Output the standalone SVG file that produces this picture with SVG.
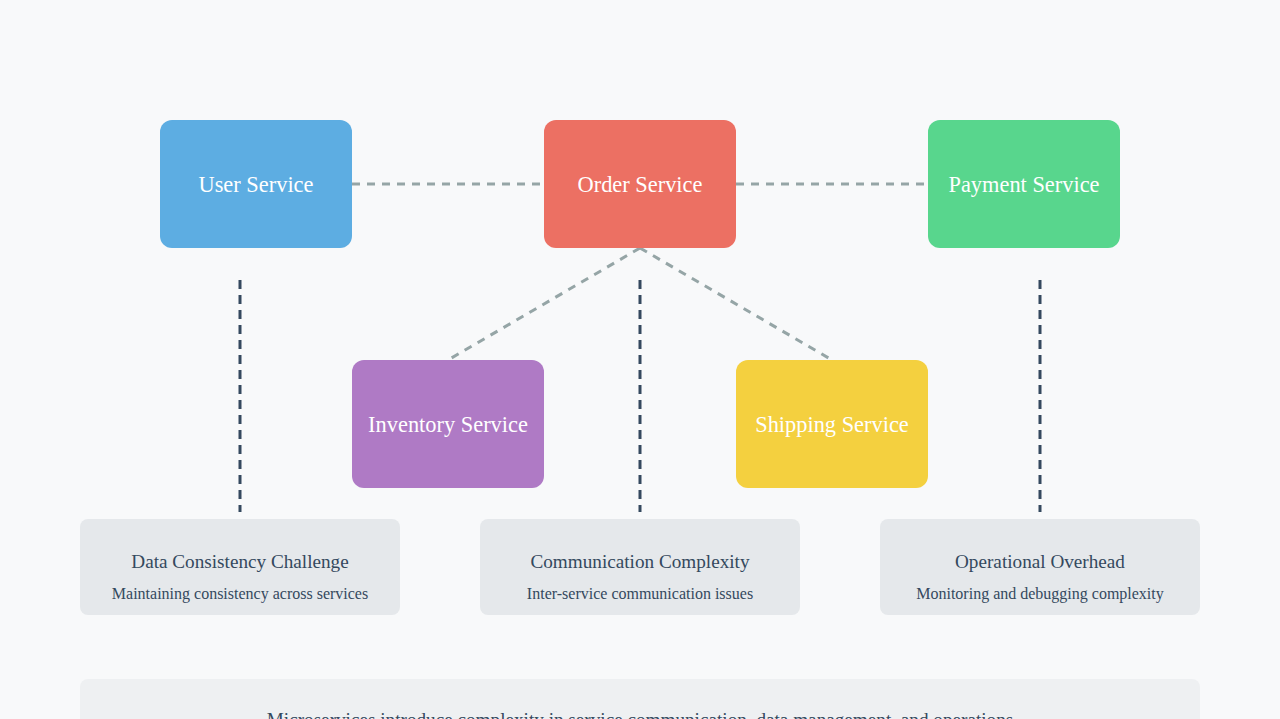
<svg xmlns="http://www.w3.org/2000/svg" width="1280" height="719" viewBox="0 0 1280 719">
<style>
.node-text{font-family:"Liberation Serif","Times New Roman",serif;font-size:22.4px;fill:#ffffff;text-anchor:middle;dominant-baseline:central}
.title{font-family:"Liberation Serif","Times New Roman",serif;font-size:19.2px;fill:#34495e;text-anchor:middle}
.sub{font-family:"Liberation Serif","Times New Roman",serif;font-size:16px;fill:#34495e;text-anchor:middle}
.conn{stroke:#95a5a6;stroke-width:3;stroke-dasharray:8,7;fill:none}
.vconn{stroke:#34495e;stroke-width:3;stroke-dasharray:9,6;fill:none}
.box{fill:#e5e8eb}
</style>
<rect x="0" y="0" width="1280" height="719" fill="#f8f9fa"/>
<g id="connectors">
<line class="conn" x1="352" y1="184" x2="544" y2="184"/>
<line class="conn" x1="736" y1="184" x2="928" y2="184"/>
<line class="conn" x1="640" y1="248" x2="448" y2="360"/>
<line class="conn" x1="640" y1="248" x2="832" y2="360"/>
<line class="vconn" x1="240" y1="280" x2="240" y2="512"/>
<line class="vconn" x1="640" y1="280" x2="640" y2="512"/>
<line class="vconn" x1="1040" y1="280" x2="1040" y2="512"/>
</g>
<g id="user-service">
<rect x="160" y="120" width="192" height="128" rx="12" fill="#5dade2"/>
<text class="node-text" x="256" y="184">User Service</text>
</g>
<g id="order-service">
<rect x="544" y="120" width="192" height="128" rx="12" fill="#ec7063"/>
<text class="node-text" x="640" y="184">Order Service</text>
</g>
<g id="payment-service">
<rect x="928" y="120" width="192" height="128" rx="12" fill="#58d68d"/>
<text class="node-text" x="1024" y="184">Payment Service</text>
</g>
<g id="inventory-service">
<rect x="352" y="360" width="192" height="128" rx="12" fill="#af7ac5"/>
<text class="node-text" x="448" y="424">Inventory Service</text>
</g>
<g id="shipping-service">
<rect x="736" y="360" width="192" height="128" rx="12" fill="#f4d03f"/>
<text class="node-text" x="832" y="424">Shipping Service</text>
</g>
<g id="challenge-data">
<rect class="box" x="80" y="519" width="320" height="96" rx="8"/>
<text class="title" x="240" y="568">Data Consistency Challenge</text>
<text class="sub" x="240" y="599">Maintaining consistency across services</text>
</g>
<g id="challenge-comm">
<rect class="box" x="480" y="519" width="320" height="96" rx="8"/>
<text class="title" x="640" y="568">Communication Complexity</text>
<text class="sub" x="640" y="599">Inter-service communication issues</text>
</g>
<g id="challenge-ops">
<rect class="box" x="880" y="519" width="320" height="96" rx="8"/>
<text class="title" x="1040" y="568">Operational Overhead</text>
<text class="sub" x="1040" y="599">Monitoring and debugging complexity</text>
</g>
<g id="summary">
<rect x="80" y="679" width="1120" height="80" rx="8" fill="#eef0f2"/>
<text class="title" x="640" y="726">Microservices introduce complexity in service communication, data management, and operations</text>
</g>
</svg>
